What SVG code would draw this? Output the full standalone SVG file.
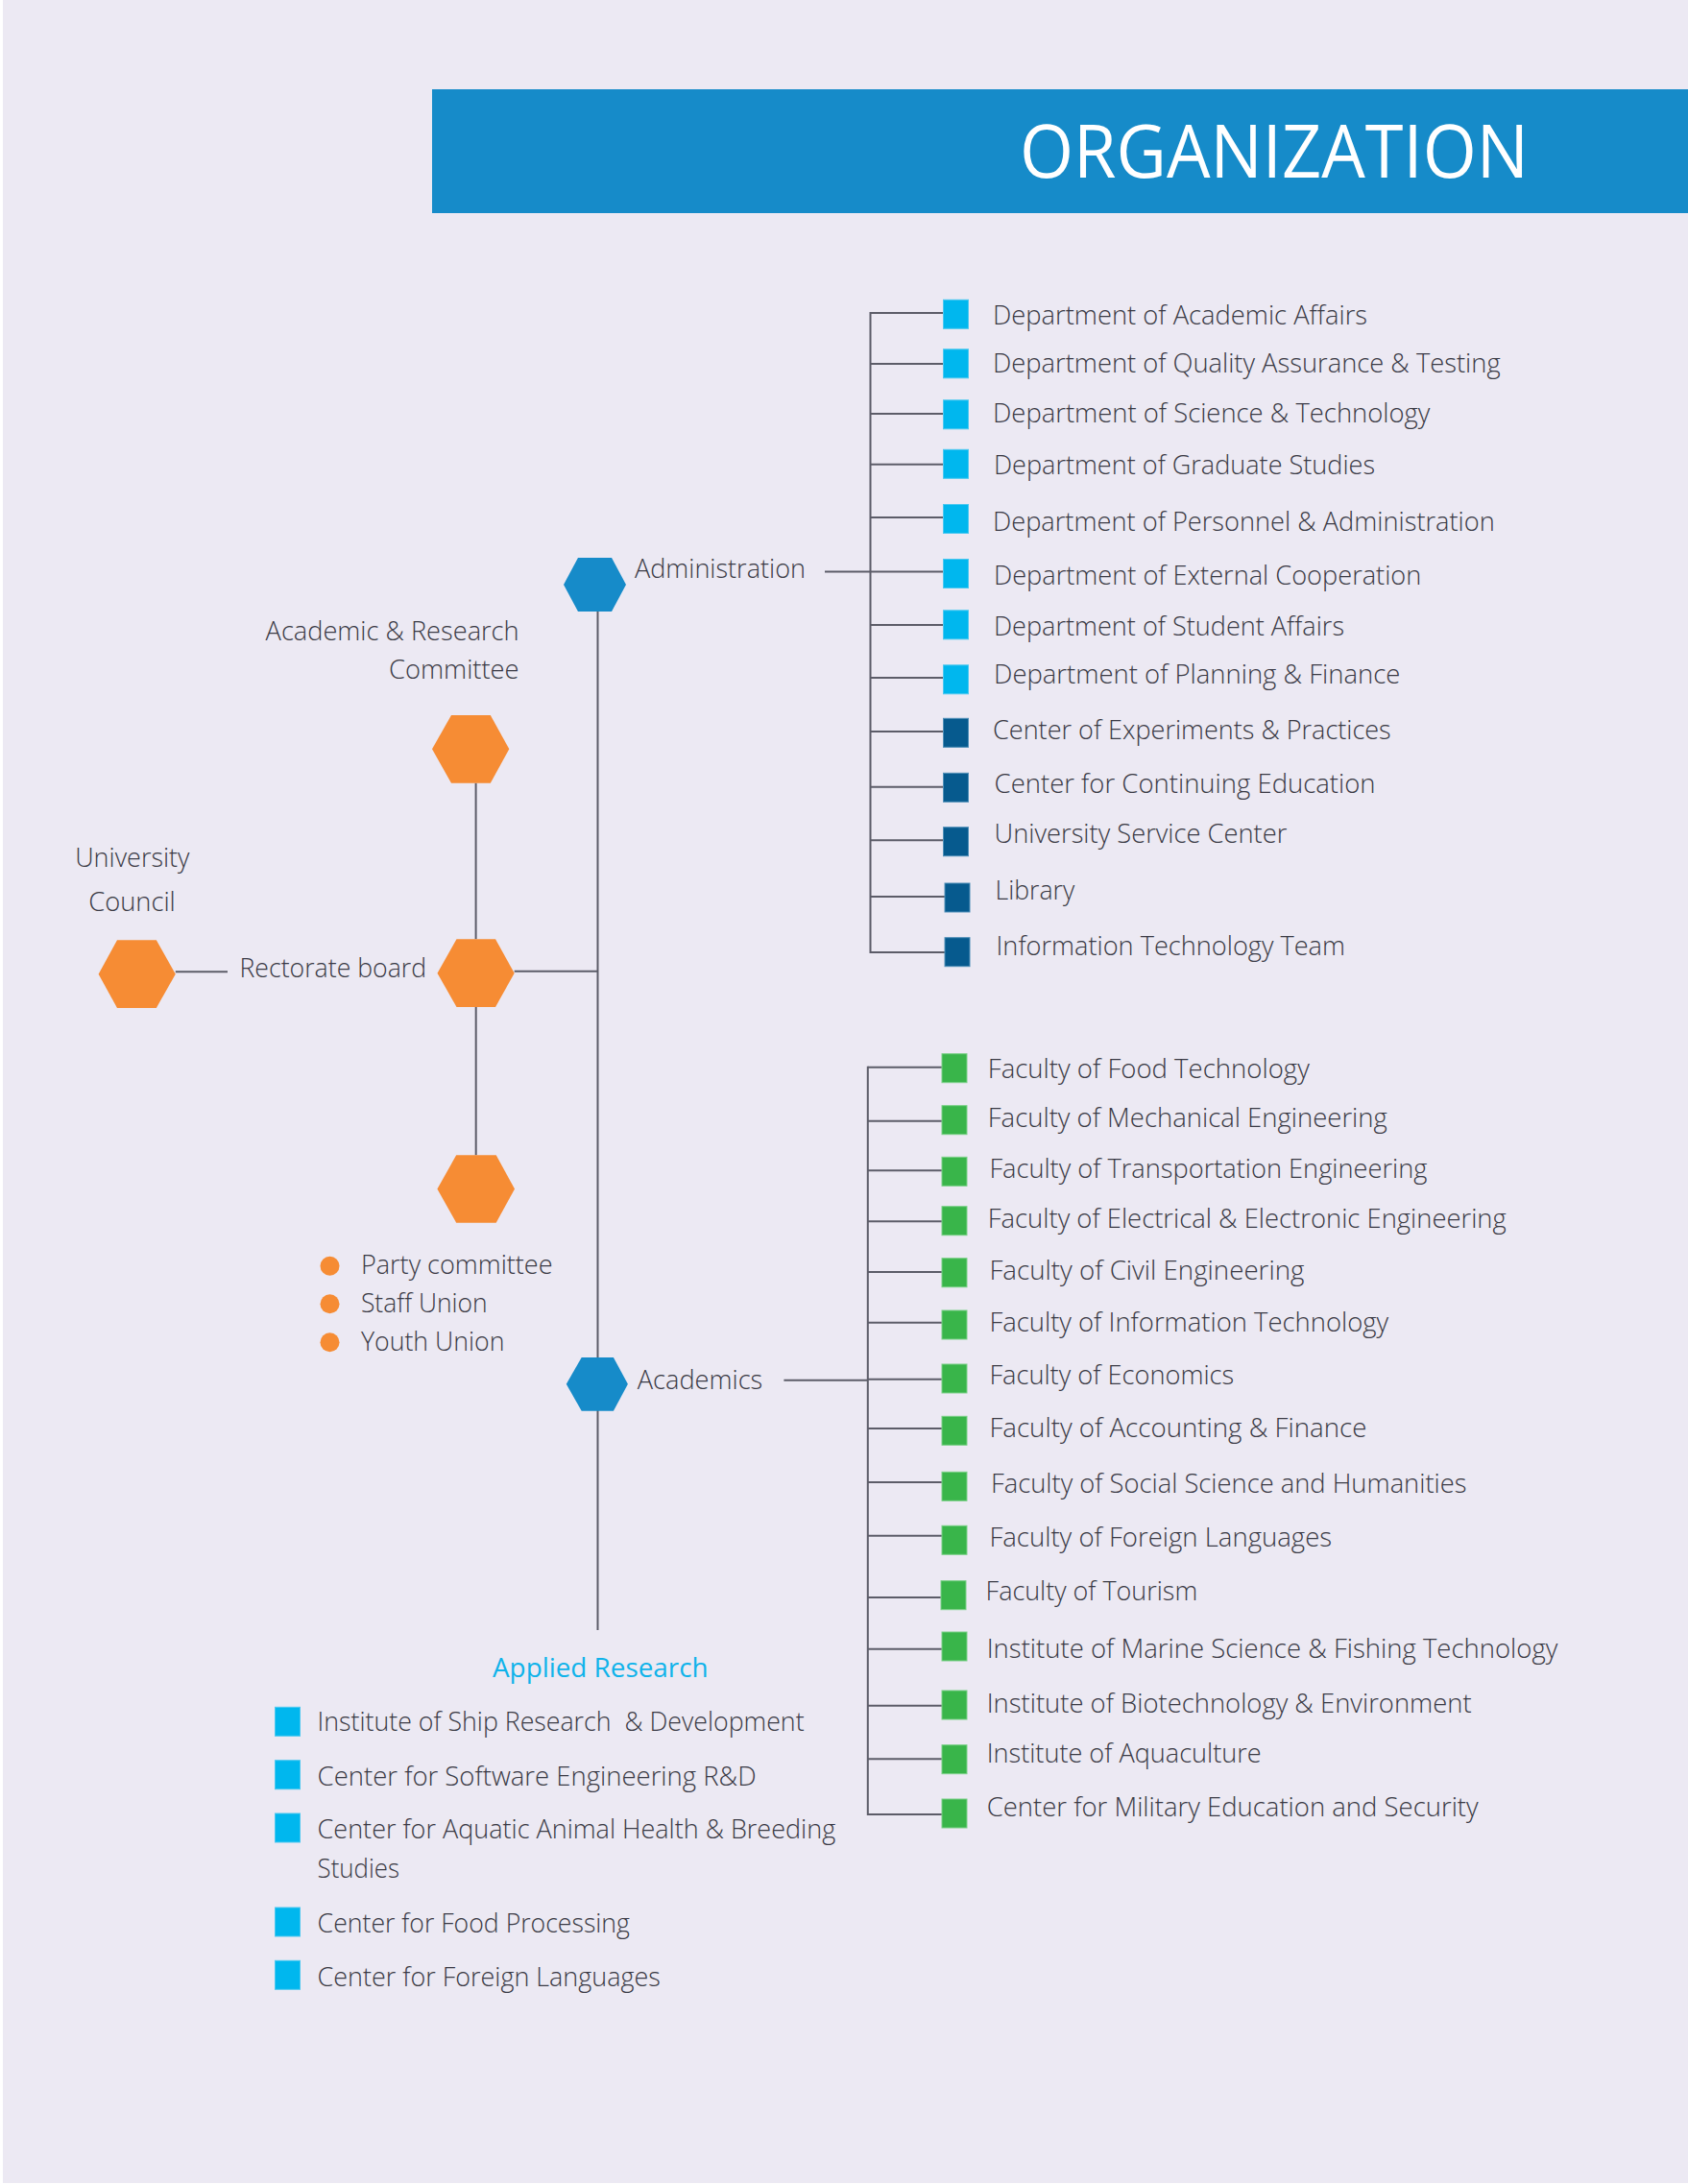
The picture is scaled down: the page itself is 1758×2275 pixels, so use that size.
<svg xmlns="http://www.w3.org/2000/svg" width="1758" height="2275" viewBox="0 0 1758 2275">
<style>
.t{font-family:"Open Sans","Noto Sans","Liberation Sans",sans-serif;font-size:28px;font-weight:300;fill:#3a3a45;}
.title{font-family:"Open Sans","Noto Sans","Liberation Sans",sans-serif;font-size:76px;fill:#ffffff;}
.ar{font-family:"Open Sans","Noto Sans","Liberation Sans",sans-serif;font-size:28px;fill:#0fb3ea;}
.ln{stroke:#5c5c68;stroke-width:2;fill:none;}
.sqc{fill:#00b7ee;stroke:#4cc8f0;stroke-width:1;}
.sqd{fill:#065a8e;stroke:#4f8fb8;stroke-width:1;}
.sqg{fill:#39b54a;stroke:#7bd087;stroke-width:1;}
.ho{fill:#f68c34;}
.hb{fill:#168bc9;}
.dot{fill:#f68c34;}
</style>
<rect x="0" y="0" width="1758" height="2275" fill="#ffffff"/>
<rect x="3" y="0" width="1755" height="2274" fill="#ece9f3"/>
<g id="header">
<rect x="450" y="93" width="1308" height="129" fill="#168bc9"/>
<text class="title" x="1062" y="185" textLength="530" lengthAdjust="spacingAndGlyphs">ORGANIZATION</text>
</g>
<g id="connectors">
<line class="ln" x1="622.5" y1="637" x2="622.5" y2="1698"/>
<line class="ln" x1="859" y1="595.5" x2="982.5" y2="595.5"/>
<line class="ln" x1="906.5" y1="325" x2="906.5" y2="993"/>
<line class="ln" x1="906.5" y1="326" x2="982.5" y2="326"/>
<line class="ln" x1="906.5" y1="379" x2="982.5" y2="379"/>
<line class="ln" x1="906.5" y1="431" x2="982.5" y2="431"/>
<line class="ln" x1="906.5" y1="483.7" x2="982.5" y2="483.7"/>
<line class="ln" x1="906.5" y1="539" x2="982.5" y2="539"/>
<line class="ln" x1="906.5" y1="651" x2="982.5" y2="651"/>
<line class="ln" x1="906.5" y1="706" x2="982.5" y2="706"/>
<line class="ln" x1="906.5" y1="762" x2="982.5" y2="762"/>
<line class="ln" x1="906.5" y1="819.7" x2="982.5" y2="819.7"/>
<line class="ln" x1="906.5" y1="875.3" x2="982.5" y2="875.3"/>
<line class="ln" x1="906.5" y1="934" x2="984" y2="934"/>
<line class="ln" x1="906.5" y1="992" x2="984" y2="992"/>
<line class="ln" x1="535.7" y1="1011.7" x2="622.5" y2="1011.7"/>
<line class="ln" x1="182.8" y1="1012.3" x2="237" y2="1012.3"/>
<line class="ln" x1="495.6" y1="815.7" x2="495.6" y2="978.3"/>
<line class="ln" x1="495.7" y1="1049" x2="495.7" y2="1203.3"/>
<line class="ln" x1="816.4" y1="1437.7" x2="903.8" y2="1437.7"/>
<line class="ln" x1="903.8" y1="1110.7" x2="903.8" y2="1891"/>
<line class="ln" x1="903.8" y1="1111.7" x2="981" y2="1111.7"/>
<line class="ln" x1="903.8" y1="1167.7" x2="981" y2="1167.7"/>
<line class="ln" x1="903.8" y1="1219.3" x2="981" y2="1219.3"/>
<line class="ln" x1="903.8" y1="1272.3" x2="981" y2="1272.3"/>
<line class="ln" x1="903.8" y1="1325" x2="981" y2="1325"/>
<line class="ln" x1="903.8" y1="1377.7" x2="981" y2="1377.7"/>
<line class="ln" x1="903.8" y1="1436.7" x2="981" y2="1436.7"/>
<line class="ln" x1="903.8" y1="1488" x2="981" y2="1488"/>
<line class="ln" x1="903.8" y1="1544" x2="981" y2="1544"/>
<line class="ln" x1="903.8" y1="1599.7" x2="981" y2="1599.7"/>
<line class="ln" x1="903.8" y1="1664" x2="981" y2="1664"/>
<line class="ln" x1="903.8" y1="1717.7" x2="981" y2="1717.7"/>
<line class="ln" x1="903.8" y1="1776.7" x2="981" y2="1776.7"/>
<line class="ln" x1="903.8" y1="1832.3" x2="981" y2="1832.3"/>
<line class="ln" x1="903.8" y1="1890" x2="981" y2="1890"/>
</g>
<g id="administration">
<polygon class="hb" points="587,609 602,581 637,581 652,609 637,637 602,637"/>
<text class="t" x="661" y="601.7" textLength="178" lengthAdjust="spacingAndGlyphs">Administration</text>
</g>
<g id="academics">
<polygon class="hb" points="589.8,1441.8 605.7,1414 638.9,1414 653.9,1441.8 638.9,1469.7 605.7,1469.7"/>
<text class="t" x="663.8" y="1447.3" textLength="130.5" lengthAdjust="spacingAndGlyphs">Academics</text>
</g>
<g id="academic-research-committee">
<polygon class="ho" points="450,780.3 470,745 510.8,745 530.3,780.3 510.8,815.7 470,815.7"/>
<text class="t" x="540.6" y="667.3" text-anchor="end" textLength="264" lengthAdjust="spacingAndGlyphs">Academic &amp; Research</text>
<text class="t" x="540.6" y="707.3" text-anchor="end" textLength="135.6" lengthAdjust="spacingAndGlyphs">Committee</text>
</g>
<g id="rectorate-board">
<polygon class="ho" points="455.5,1013.7 475.5,978.3 516,978.3 535.7,1013.7 516,1049 475.5,1049"/>
<text class="t" x="249.5" y="1018.3" textLength="194.6" lengthAdjust="spacingAndGlyphs">Rectorate board</text>
</g>
<g id="university-council">
<polygon class="ho" points="102.6,1014.7 122,979.3 162.8,979.3 182.8,1014.7 162.8,1050 122,1050"/>
<text class="t" x="78.2" y="903.3" textLength="119.3" lengthAdjust="spacingAndGlyphs">University</text>
<text class="t" x="92.3" y="949.3" textLength="90.5" lengthAdjust="spacingAndGlyphs">Council</text>
</g>
<g id="party-unions">
<polygon class="ho" points="455.4,1238.5 475.2,1203.3 516.7,1203.3 536,1238.5 516.7,1273.7 475.2,1273.7"/>
<circle class="dot" cx="343.5" cy="1318.7" r="10"/>
<circle class="dot" cx="343.5" cy="1358.3" r="10"/>
<circle class="dot" cx="343.5" cy="1398.3" r="10"/>
<text class="t" x="375.9" y="1326.7" textLength="199.7" lengthAdjust="spacingAndGlyphs">Party committee</text>
<text class="t" x="375.9" y="1366.7" textLength="131.7" lengthAdjust="spacingAndGlyphs">Staff Union</text>
<text class="t" x="375.9" y="1406.7" textLength="149.5" lengthAdjust="spacingAndGlyphs">Youth Union</text>
</g>
<g id="admin-units">
<rect class="sqc" x="982.5" y="312.3" width="26" height="30"/>
<text class="t" x="1034" y="338" textLength="390" lengthAdjust="spacingAndGlyphs">Department of Academic Affairs</text>
<rect class="sqc" x="982.5" y="363.8" width="26" height="30"/>
<text class="t" x="1034" y="388.3" textLength="528.6" lengthAdjust="spacingAndGlyphs">Department of Quality Assurance &amp; Testing</text>
<rect class="sqc" x="982.5" y="416.8" width="26" height="30"/>
<text class="t" x="1034" y="440" textLength="455.4" lengthAdjust="spacingAndGlyphs">Department of Science &amp; Technology</text>
<rect class="sqc" x="982.5" y="468.3" width="26" height="30"/>
<text class="t" x="1035" y="494" textLength="397" lengthAdjust="spacingAndGlyphs">Department of Graduate Studies</text>
<rect class="sqc" x="982.5" y="525.5" width="26" height="30"/>
<text class="t" x="1034" y="553.3" textLength="522.8" lengthAdjust="spacingAndGlyphs">Department of Personnel &amp; Administration</text>
<rect class="sqc" x="982.5" y="582.5" width="26" height="30"/>
<text class="t" x="1035" y="609.3" textLength="445.3" lengthAdjust="spacingAndGlyphs">Department of External Cooperation</text>
<rect class="sqc" x="982.5" y="635.8" width="26" height="30"/>
<text class="t" x="1035" y="661.7" textLength="365" lengthAdjust="spacingAndGlyphs">Department of Student Affairs</text>
<rect class="sqc" x="982.5" y="692.8" width="26" height="30"/>
<text class="t" x="1035" y="712" textLength="423.3" lengthAdjust="spacingAndGlyphs">Department of Planning &amp; Finance</text>
<rect class="sqd" x="982.5" y="748.3" width="26" height="30"/>
<text class="t" x="1034" y="770" textLength="414.7" lengthAdjust="spacingAndGlyphs">Center of Experiments &amp; Practices</text>
<rect class="sqd" x="982.5" y="805.3" width="26" height="30"/>
<text class="t" x="1035.6" y="826" textLength="397" lengthAdjust="spacingAndGlyphs">Center for Continuing Education</text>
<rect class="sqd" x="982.5" y="861.7" width="26" height="30"/>
<text class="t" x="1035.6" y="878.3" textLength="304.7" lengthAdjust="spacingAndGlyphs">University Service Center</text>
<rect class="sqd" x="984" y="920" width="26" height="30"/>
<text class="t" x="1036.5" y="936.7" textLength="82.7" lengthAdjust="spacingAndGlyphs">Library</text>
<rect class="sqd" x="984" y="976.7" width="26" height="30"/>
<text class="t" x="1037.5" y="995" textLength="363.5" lengthAdjust="spacingAndGlyphs">Information Technology Team</text>
</g>
<g id="academic-units">
<rect class="sqg" x="981" y="1097.7" width="26" height="30"/>
<text class="t" x="1028.8" y="1122.7" textLength="335" lengthAdjust="spacingAndGlyphs">Faculty of Food Technology</text>
<rect class="sqg" x="981" y="1151.7" width="26" height="30"/>
<text class="t" x="1028.8" y="1174" textLength="416" lengthAdjust="spacingAndGlyphs">Faculty of Mechanical Engineering</text>
<rect class="sqg" x="981" y="1205.3" width="26" height="30"/>
<text class="t" x="1030.4" y="1226.7" textLength="456" lengthAdjust="spacingAndGlyphs">Faculty of Transportation Engineering</text>
<rect class="sqg" x="981" y="1256.7" width="26" height="30"/>
<text class="t" x="1028.8" y="1279.3" textLength="540" lengthAdjust="spacingAndGlyphs">Faculty of Electrical &amp; Electronic Engineering</text>
<rect class="sqg" x="981" y="1310.7" width="26" height="30"/>
<text class="t" x="1030.4" y="1333.3" textLength="328" lengthAdjust="spacingAndGlyphs">Faculty of Civil Engineering</text>
<rect class="sqg" x="981" y="1365" width="26" height="30"/>
<text class="t" x="1030.4" y="1387.3" textLength="415.8" lengthAdjust="spacingAndGlyphs">Faculty of Information Technology</text>
<rect class="sqg" x="981" y="1421" width="26" height="30"/>
<text class="t" x="1030.4" y="1441.7" textLength="254.8" lengthAdjust="spacingAndGlyphs">Faculty of Economics</text>
<rect class="sqg" x="981" y="1475.3" width="26" height="30"/>
<text class="t" x="1030.4" y="1496.7" textLength="393" lengthAdjust="spacingAndGlyphs">Faculty of Accounting &amp; Finance</text>
<rect class="sqg" x="981" y="1533.3" width="26" height="30"/>
<text class="t" x="1032" y="1555" textLength="495.5" lengthAdjust="spacingAndGlyphs">Faculty of Social Science and Humanities</text>
<rect class="sqg" x="981" y="1589.3" width="26" height="30"/>
<text class="t" x="1030.4" y="1610.7" textLength="356.7" lengthAdjust="spacingAndGlyphs">Faculty of Foreign Languages</text>
<rect class="sqg" x="980" y="1646.7" width="26" height="30"/>
<text class="t" x="1026.6" y="1666.7" textLength="220.6" lengthAdjust="spacingAndGlyphs">Faculty of Tourism</text>
<rect class="sqg" x="981" y="1700" width="26" height="30"/>
<text class="t" x="1027.7" y="1726.7" textLength="594.7" lengthAdjust="spacingAndGlyphs">Institute of Marine Science &amp; Fishing Technology</text>
<rect class="sqg" x="981" y="1761" width="26" height="30"/>
<text class="t" x="1027.7" y="1784" textLength="505" lengthAdjust="spacingAndGlyphs">Institute of Biotechnology &amp; Environment</text>
<rect class="sqg" x="981" y="1817.7" width="26" height="30"/>
<text class="t" x="1027.7" y="1836" textLength="286" lengthAdjust="spacingAndGlyphs">Institute of Aquaculture</text>
<rect class="sqg" x="981" y="1874" width="26" height="30"/>
<text class="t" x="1027.7" y="1892.3" textLength="512" lengthAdjust="spacingAndGlyphs">Center for Military Education and Security</text>
</g>
<g id="applied-research">
<text class="ar" x="513" y="1746.7" textLength="224.6" lengthAdjust="spacingAndGlyphs">Applied Research</text>
<rect class="sqc" x="286.5" y="1778.3" width="26" height="30"/>
<text class="t" x="330.6" y="1803.3" textLength="507" lengthAdjust="spacingAndGlyphs" xml:space="preserve">Institute of Ship Research  &amp; Development</text>
<rect class="sqc" x="286.5" y="1833.7" width="26" height="30"/>
<text class="t" x="330.6" y="1860" textLength="457" lengthAdjust="spacingAndGlyphs">Center for Software Engineering R&amp;D</text>
<rect class="sqc" x="286.5" y="1889" width="26" height="30"/>
<text class="t" x="330.6" y="1915" textLength="539.6" lengthAdjust="spacingAndGlyphs">Center for Aquatic Animal Health &amp; Breeding</text>
<text class="t" x="330.6" y="1956" textLength="85.4" lengthAdjust="spacingAndGlyphs">Studies</text>
<rect class="sqc" x="286.5" y="1987" width="26" height="30"/>
<text class="t" x="330.6" y="2013.3" textLength="325.3" lengthAdjust="spacingAndGlyphs">Center for Food Processing</text>
<rect class="sqc" x="286.5" y="2042.3" width="26" height="30"/>
<text class="t" x="330.6" y="2069" textLength="357.2" lengthAdjust="spacingAndGlyphs">Center for Foreign Languages</text>
</g>
</svg>
